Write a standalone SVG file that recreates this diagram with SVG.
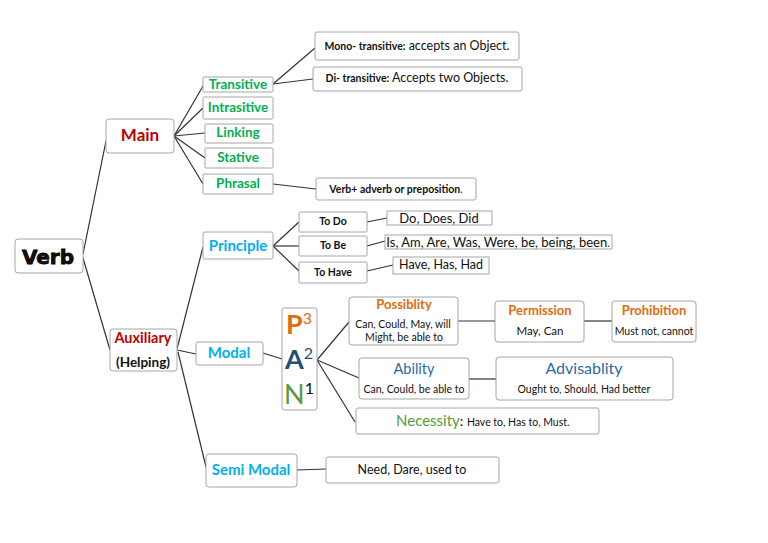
<svg xmlns="http://www.w3.org/2000/svg" width="768" height="543" viewBox="0 0 768 543">
<style>
.b{fill:#fff;stroke:#a6a6a6;stroke-width:1}
.c line{stroke:#333;stroke-width:1.2}
text{font-family:Lato,"Open Sans","Liberation Sans",sans-serif;text-anchor:middle;fill:#111}
.g{fill:#00b050;font-weight:700;font-size:13.5px}
.bl{fill:#00b0f0;font-weight:700;font-size:15px}
.r{fill:#c00000;font-weight:700}
.s{font-weight:700;font-size:10.5px}
.o{fill:#e36c0a;font-weight:700;font-size:13px}
.db{fill:#2e6aa8}
.t10{font-size:10.5px}
</style>
<rect width="768" height="543" fill="#fff"/>
<g class="c" id="connectors">
<line x1="83" y1="254" x2="106" y2="141"/>
<line x1="83" y1="258" x2="110" y2="350"/>
<line x1="174" y1="136" x2="203" y2="86"/>
<line x1="174" y1="136" x2="203" y2="108"/>
<line x1="174" y1="136" x2="205" y2="133"/>
<line x1="174" y1="136" x2="205" y2="158"/>
<line x1="174" y1="136" x2="203" y2="184"/>
<line x1="273" y1="84" x2="315" y2="48"/>
<line x1="273" y1="84" x2="313" y2="79"/>
<line x1="273" y1="184" x2="316" y2="189"/>
<line x1="177" y1="349" x2="203" y2="247"/>
<line x1="177" y1="350" x2="196" y2="354"/>
<line x1="178" y1="352" x2="206" y2="467"/>
<line x1="273" y1="246" x2="299" y2="222"/>
<line x1="273" y1="246" x2="299" y2="246"/>
<line x1="273" y1="246" x2="299" y2="271"/>
<line x1="367" y1="222" x2="387" y2="218"/>
<line x1="367" y1="246" x2="385" y2="241"/>
<line x1="367" y1="271" x2="393" y2="265"/>
<line x1="263" y1="353" x2="282" y2="359"/>
<line x1="317" y1="360" x2="349" y2="322"/>
<line x1="317" y1="360" x2="359" y2="378"/>
<line x1="317" y1="360" x2="355" y2="422"/>
<line x1="458" y1="321" x2="495" y2="321"/>
<line x1="584" y1="321" x2="612" y2="321"/>
<line x1="469" y1="379" x2="496" y2="379"/>
<line x1="297" y1="470" x2="326" y2="469"/>
</g>
<g id="verb"><rect class="b" x="15" y="239" width="68" height="34" rx="3"/><text x="48" y="264" style="font-family:'DejaVu Sans','Liberation Sans',sans-serif;font-weight:700;font-size:20px;stroke:#000;stroke-width:0.8">Verb</text></g>
<g id="main"><rect class="b" x="106" y="119" width="68" height="34" rx="3"/><text class="r" x="140" y="141" style="font-size:17px">Main</text></g>
<g id="transitive"><rect class="b" x="203" y="77" width="70" height="15" rx="1"/><text class="g" x="238" y="89">Transitive</text></g>
<g id="intrasitive"><rect class="b" x="203" y="97" width="70" height="22" rx="1"/><text class="g" x="238" y="112">Intrasitive</text></g>
<g id="linking"><rect class="b" x="205" y="124" width="68" height="19" rx="1"/><text class="g" x="238" y="137">Linking</text></g>
<g id="stative"><rect class="b" x="205" y="148" width="68" height="20" rx="1"/><text class="g" x="238" y="162">Stative</text></g>
<g id="phrasal"><rect class="b" x="203" y="174" width="70" height="20" rx="1"/><text class="g" x="238" y="188">Phrasal</text></g>
<g id="mono"><rect class="b" x="315" y="32" width="204" height="28" rx="2"/><text x="417" y="50"><tspan class="s">Mono- transitive:</tspan><tspan style="font-size:12.5px"> accepts an Object.</tspan></text></g>
<g id="di"><rect class="b" x="313" y="67" width="209" height="24" rx="2"/><text x="417" y="82"><tspan class="s">Di- transitive:</tspan><tspan style="font-size:12.5px"> Accepts two Objects.</tspan></text></g>
<g id="verbplus"><rect class="b" x="316" y="178" width="160" height="22" rx="2"/><text x="396" y="193"><tspan class="s">Verb+ adverb or preposition</tspan><tspan class="t10">.</tspan></text></g>
<g id="auxiliary"><rect class="b" x="110" y="329" width="67" height="42" rx="3"/><text class="r" x="143" y="343" style="font-size:14.5px">Auxiliary</text><text x="143" y="367" style="font-weight:700;font-size:13.5px">(Helping)</text></g>
<g id="principle"><rect class="b" x="203" y="232" width="70" height="27" rx="2"/><text class="bl" x="238" y="251">Principle</text></g>
<g id="todo"><rect class="b" x="299" y="212" width="68" height="20" rx="1"/><text class="s" x="333" y="225">To Do</text></g>
<g id="tobe"><rect class="b" x="299" y="236" width="68" height="20" rx="1"/><text class="s" x="333" y="249">To Be</text></g>
<g id="tohave"><rect class="b" x="299" y="262" width="68" height="21" rx="1"/><text class="s" x="333" y="276">To Have</text></g>
<g id="dodoes"><rect class="b" x="387" y="211" width="105" height="14" rx="0"/><text x="439" y="223" style="font-size:13px">Do, Does, Did</text></g>
<g id="isam"><rect class="b" x="385" y="235" width="227" height="14" rx="0"/><text x="498" y="247" style="font-size:13px">Is, Am, Are, Was, Were, be, being, been<tspan class="t10">.</tspan></text></g>
<g id="havehas"><rect class="b" x="393" y="257" width="96" height="17" rx="0"/><text x="441" y="269" style="font-size:12.5px">Have, Has, Had</text></g>
<g id="modal"><rect class="b" x="196" y="342" width="67" height="23" rx="2"/><text class="bl" x="229" y="358">Modal</text></g>
<g id="pan"><rect class="b" x="282" y="308" width="35" height="102" rx="2"/>
<text x="299" y="334"><tspan style="fill:#e36c0a;font-weight:700;font-size:27px">P</tspan><tspan style="fill:#e36c0a;font-size:16px" dy="-10">3</tspan></text>
<text x="299" y="369"><tspan style="fill:#1f4e79;font-weight:700;font-size:27px">A</tspan><tspan style="fill:#1f4e79;font-size:16px" dy="-10">2</tspan></text>
<text x="299" y="404"><tspan style="fill:#5b9a3c;font-size:27px">N</tspan><tspan style="fill:#111;font-size:16px" dy="-10">1</tspan></text></g>
<g id="possiblity"><rect class="b" x="349" y="297" width="109" height="48" rx="3"/><text class="o" x="404" y="309">Possiblity</text><text class="t10" x="403" y="328">Can, Could, May, will</text><text class="t10" x="404" y="341">Might, be able to</text></g>
<g id="permission"><rect class="b" x="495" y="301" width="89" height="41" rx="3"/><text class="o" x="540" y="315">Permission</text><text x="540" y="335" style="font-size:11.5px">May, Can</text></g>
<g id="prohibition"><rect class="b" x="612" y="301" width="84" height="41" rx="3"/><text class="o" x="654" y="315">Prohibition</text><text class="t10" x="654" y="335">Must not, cannot</text></g>
<g id="ability"><rect class="b" x="359" y="358" width="110" height="41" rx="3"/><text class="db" x="414" y="374" style="font-size:14.5px">Ability</text><text class="t10" x="414" y="393">Can, Could, be able to</text></g>
<g id="advisablity"><rect class="b" x="496" y="357" width="177" height="43" rx="3"/><text class="db" x="584" y="374" style="font-size:16px">Advisablity</text><text class="t10" x="584" y="393">Ought to, Should, Had better</text></g>
<g id="necessity"><rect class="b" x="356" y="408" width="243" height="26" rx="2"/><text x="396" y="426" style="text-anchor:start"><tspan style="fill:#5b9a3c;font-size:15px">Necessity</tspan><tspan style="font-size:14px">: </tspan><tspan class="t10">Have to, Has to, Must.</tspan></text></g>
<g id="semimodal"><rect class="b" x="206" y="454" width="91" height="33" rx="3"/><text class="bl" x="251" y="475">Semi Modal</text></g>
<g id="need"><rect class="b" x="326" y="457" width="173" height="26" rx="2"/><text x="412" y="474" style="font-size:12.5px">Need, Dare, used to</text></g>
</svg>
